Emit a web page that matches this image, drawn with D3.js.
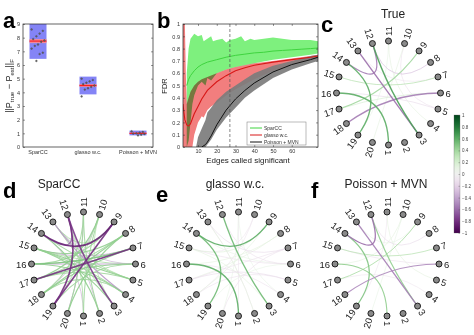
<!DOCTYPE html>
<html>
<head>
<meta charset="utf-8">
<script src="https://cdn.jsdelivr.net/npm/d3@7"></script>
<style>
body { margin: 0; background: #fff; }
svg { font-family: "Liberation Sans", Arial, sans-serif; }
</style>
</head>
<body>
<svg id="fig" width="474" height="335"></svg>
<script>
// ---- panel a: error norms per method ----
var methods = ["SparCC", "glasso w.c.", "Poisson + MVN"];
var normPoints = [
  [8.6, 8.5, 8.3, 8.1, 7.9, 7.8, 7.7, 7.5, 7.4, 7.2, 6.9, 6.8, 6.3],
  [5.0, 4.9, 4.8, 4.7, 4.6, 4.5, 4.4, 4.3, 4.2, 3.7],
  [1.15, 1.1, 1.05, 1.0, 0.98, 0.95, 0.9, 0.85]
];
var normMean = [7.75, 4.5, 1.0];
var normSem = [0.15, 0.1, 0.05];
var normBoxLo = [6.45, 3.85, 0.85];
var normBoxHi = [9.0, 5.15, 1.2];

// ---- panel b: FDR curves ----
var sparGreenX = [4, 5, 6, 8, 10, 12, 15, 20, 25, 30, 35, 40, 45, 50, 55, 60, 65, 70, 74];
var sparMean = [0.5, 0.55, 0.58, 0.62, 0.65, 0.67, 0.69, 0.71, 0.73, 0.745, 0.755, 0.765, 0.77, 0.78, 0.785, 0.79, 0.795, 0.8, 0.805];
var sparUpX = [4, 5, 6, 7, 8, 10, 12, 13, 15, 17, 18, 20, 23, 25, 27, 30, 33, 35, 38, 40, 45, 50, 55, 60, 65, 70, 74];
var sparUp = [0.6, 0.8, 0.88, 0.9, 0.92, 0.9, 0.91, 0.86, 0.88, 0.9, 0.86, 0.87, 0.88, 0.85, 0.87, 0.88, 0.9, 0.86, 0.88, 0.87, 0.88, 0.89, 0.88, 0.87, 0.87, 0.87, 0.86];
var sparLoX = [4, 5, 6, 7, 8, 10, 12, 14, 15, 17, 20, 25, 30, 40, 50, 60, 70, 74];
var sparLo = [0, 0.05, 0.2, 0.35, 0.42, 0.5, 0.53, 0.5, 0.56, 0.54, 0.6, 0.63, 0.65, 0.68, 0.71, 0.73, 0.75, 0.76];

var glasMeanX = [2, 2.5, 3, 4, 5, 6, 8, 10, 12, 15, 20, 25, 30, 35, 40, 50, 60, 70, 74];
var glasMean = [0.35, 0.28, 0.22, 0.18, 0.17, 0.19, 0.27, 0.33, 0.39, 0.46, 0.53, 0.58, 0.62, 0.645, 0.665, 0.69, 0.71, 0.73, 0.74];
var glasUpX = [2, 3, 3.5, 4, 5, 6, 8, 10, 12, 15, 20, 25, 30, 40, 50, 60, 70, 74];
var glasUp = [1, 1, 0.6, 0.35, 0.4, 0.45, 0.5, 0.53, 0.55, 0.57, 0.6, 0.63, 0.65, 0.68, 0.7, 0.72, 0.74, 0.75];
var glasLoX = [2, 7, 8, 10, 12, 13, 15, 17, 20, 25, 30, 40, 50, 60, 70, 74];
var glasLo = [0, 0, 0.1, 0.2, 0.25, 0.24, 0.3, 0.33, 0.36, 0.42, 0.47, 0.55, 0.62, 0.67, 0.71, 0.72];

var poisMeanX = [12, 14, 15, 17, 20, 25, 30, 35, 40, 50, 60, 70, 74];
var poisMean = [0, 0.02, 0.04, 0.09, 0.18, 0.3, 0.39, 0.46, 0.52, 0.61, 0.67, 0.71, 0.73];
var poisUpX = [9, 10, 12, 14, 15, 17, 20, 25, 30, 35, 40, 50, 60, 70, 74];
var poisUp = [0, 0.08, 0.15, 0.22, 0.28, 0.32, 0.38, 0.45, 0.5, 0.55, 0.6, 0.66, 0.7, 0.74, 0.75];
var poisLoX = [9, 14, 15, 17, 20, 25, 30, 35, 40, 50, 60, 70, 74];
var poisLo = [0, 0, 0.02, 0.06, 0.14, 0.24, 0.32, 0.4, 0.46, 0.56, 0.63, 0.68, 0.7];
var cutoffEdges = 27;

// ---- panels c-f: network edges [node, node, weight] ----
var trueEdges = [
  [12, 3, 0.65], [13, 3, -0.6], [14, 12, -0.55], [14, 19, 0.6], [16, 1, 0.6], [18, 6, -0.55],
  [9, 17, 0.4], [7, 15, 0.3], [12, 8, -0.25], [11, 4, 0.12], [10, 5, -0.12], [5, 16, -0.15],
  [20, 10, 0.12], [17, 6, 0.18], [13, 7, -0.1], [19, 11, 0.1]
];
var sparccEdges = [
  [14, 9, -0.85], [12, 19, -0.8], [12, 3, -0.75], [17, 7, -0.8], [19, 9, -0.8], [14, 12, -0.6],
  [13, 4, -0.45], [16, 6, -0.4], [11, 20, -0.35], [15, 7, -0.35], [18, 10, -0.3], [2, 12, -0.3],
  [13, 6, -0.3], [1, 14, -0.3],
  [15, 8, 0.45], [15, 5, 0.45], [16, 7, 0.5], [16, 4, 0.45], [17, 8, 0.4], [17, 5, 0.4],
  [18, 7, 0.45], [18, 4, 0.4], [19, 6, 0.4], [20, 8, 0.45], [20, 11, 0.4], [1, 10, 0.4],
  [1, 12, 0.35], [2, 11, 0.4], [2, 14, 0.45], [3, 13, 0.35], [3, 15, 0.45], [4, 15, 0.4],
  [5, 14, 0.4], [6, 15, 0.35], [6, 17, 0.45], [7, 16, 0.35], [8, 18, 0.45], [9, 16, 0.4],
  [10, 17, 0.45], [10, 19, 0.35], [11, 18, 0.4], [13, 9, 0.35], [3, 10, 0.3], [5, 13, 0.35]
];
var glassoEdges = [
  [14, 9, 0.6], [12, 3, 0.55], [16, 1, 0.6], [14, 19, 0.55],
  [13, 7, -0.15], [15, 6, -0.12], [17, 8, 0.12], [18, 5, -0.12], [11, 4, 0.1], [10, 18, -0.1],
  [9, 15, 0.15], [20, 7, -0.12], [2, 13, 0.12], [17, 5, -0.15], [16, 8, 0.12], [15, 10, -0.1],
  [19, 6, 0.1], [12, 6, -0.12], [13, 2, -0.1], [18, 9, 0.12], [11, 1, -0.1], [20, 11, 0.1],
  [4, 16, -0.12], [3, 15, 0.12], [7, 17, -0.12], [6, 14, 0.1]
];
var poissonEdges = [
  [14, 12, -0.6], [13, 3, -0.55], [12, 3, 0.45], [14, 19, 0.5], [16, 1, 0.45], [18, 6, -0.5],
  [9, 17, 0.35], [7, 15, 0.3], [12, 8, -0.15], [11, 5, 0.12], [15, 6, -0.12], [13, 9, 0.1],
  [20, 10, 0.1], [17, 4, -0.1], [10, 16, 0.12], [11, 19, -0.1]
];
var nodeIds = d3.range(1, 21);
var cbarTicks = [-1, -0.8, -0.6, -0.4, -0.2, 0, 0.2, 0.4, 0.6, 0.8, 1];

var svg = d3.select("#fig");

function panelLetter(t, x, y) {
  svg.append("text").attr("x", x).attr("y", y).attr("font-size", 22)
    .attr("font-weight", "bold").text(t);
}

// box axes with inward ticks on all sides
function boxAxes(x, y, xt, yt, xfmt, yfmt) {
  var g = svg.append("g");
  var x0 = x.range()[0], x1 = x.range()[1], y0 = y.range()[0], y1 = y.range()[1];
  g.append("g").attr("transform", "translate(0," + y0 + ")")
    .call(d3.axisBottom(x).tickValues(xt).tickFormat(xfmt).tickSizeInner(-2).tickSizeOuter(0).tickPadding(2));
  g.append("g").attr("transform", "translate(" + x0 + ",0)")
    .call(d3.axisLeft(y).tickValues(yt).tickFormat(yfmt).tickSizeInner(-2).tickSizeOuter(0).tickPadding(3));
  g.append("g").attr("transform", "translate(" + x1 + ",0)")
    .call(d3.axisRight(y).tickValues(yt).tickFormat("").tickSizeInner(-2).tickSizeOuter(0));
  g.append("g").attr("transform", "translate(0," + y1 + ")")
    .call(d3.axisTop(x).tickValues(xt).tickFormat("").tickSizeInner(-2).tickSizeOuter(0));
  g.selectAll("g").attr("font-size", 5.5).attr("font-family", null);
  g.selectAll(".domain").remove();
  g.selectAll("line").attr("stroke", "#333").attr("stroke-width", 0.5);
  g.selectAll("text").attr("fill", "#333");
  g.append("rect").attr("x", x0).attr("y", y1).attr("width", x1 - x0).attr("height", y0 - y1)
    .attr("fill", "none").attr("stroke", "#222").attr("stroke-width", 0.7);
  return g;
}

// ================= panel a =================
var ax = d3.scalePoint().domain(methods).range([38, 138]);
var ay = d3.scaleLinear().domain([0, 9]).range([147, 24]);
var ga = svg.append("g");
methods.forEach(function (m, i) {
  var cx = ax(m), w = 17;
  ga.append("rect").attr("x", cx - w / 2).attr("width", w)
    .attr("y", ay(normBoxHi[i])).attr("height", ay(normBoxLo[i]) - ay(normBoxHi[i]))
    .attr("fill", "#8484f6");
  ga.append("rect").attr("x", cx - w / 2).attr("width", w)
    .attr("y", ay(normMean[i] + normSem[i])).attr("height", ay(normMean[i] - normSem[i]) - ay(normMean[i] + normSem[i]))
    .attr("fill", "#f08a9a");
  ga.append("line").attr("x1", cx - w / 2).attr("x2", cx + w / 2)
    .attr("y1", ay(normMean[i])).attr("y2", ay(normMean[i]))
    .attr("stroke", "#ff2020").attr("stroke-width", 1.2);
  normPoints[i].forEach(function (v, j) {
    var jit = ((j * 7) % 9 - 4) * 1.6;
    ga.append("circle").attr("cx", cx + jit).attr("cy", ay(v)).attr("r", 0.9)
      .attr("fill", "#666").attr("stroke", "#333").attr("stroke-width", 0.3);
  });
});
boxAxes(d3.scaleLinear().domain([0, 1]).range([23, 153]), ay, [], d3.range(0, 10), null, d3.format("d"));
svg.append("g").attr("font-size", 5.5).attr("fill", "#333")
  .selectAll("text").data(methods).join("text")
  .attr("x", function (d) { return ax(d); }).attr("y", 154)
  .attr("text-anchor", "middle").text(function (d) { return d; });
var yl = svg.append("text").attr("transform", "translate(12,86) rotate(-90)")
  .attr("text-anchor", "middle").attr("font-size", 9).attr("fill", "#222");
yl.append("tspan").text("||P");
yl.append("tspan").attr("font-size", 6).attr("dy", 2).text("true");
yl.append("tspan").attr("dy", -2).text(" \u2212 P");
yl.append("tspan").attr("font-size", 6).attr("dy", 2).text("est");
yl.append("tspan").attr("dy", -2).text("||");
yl.append("tspan").attr("font-size", 6).attr("dy", 2).text("F");
panelLetter("a", 3, 28);

// ================= panel b =================
var bx = d3.scaleLinear().domain([2, 74]).range([183, 318]);
var by = d3.scaleLinear().domain([0, 1]).range([147, 24]);
var gb = svg.append("g");
gb.append("clipPath").attr("id", "clipb").append("rect")
  .attr("x", 183).attr("y", 24).attr("width", 135).attr("height", 123);
var plot = gb.append("g").attr("clip-path", "url(#clipb)");

function band(xu, yu, xl, yl2) {
  var pts = xu.map(function (x, i) { return [bx(x), by(yu[i])]; });
  for (var i = xl.length - 1; i >= 0; i--) pts.push([bx(xl[i]), by(yl2[i])]);
  return "M" + pts.join("L") + "Z";
}
var line = d3.line().x(function (d) { return bx(d[0]); }).y(function (d) { return by(d[1]); });
function zip(xs, ys) { return xs.map(function (x, i) { return [x, ys[i]]; }); }

plot.append("path").attr("d", band(glasUpX, glasUp, glasLoX, glasLo))
  .attr("fill", "#f27e7e").style("mix-blend-mode", "multiply");
plot.append("path").attr("d", band(sparUpX, sparUp, sparLoX, sparLo))
  .attr("fill", "#7ef07e").style("mix-blend-mode", "multiply");
plot.append("path").attr("d", band(poisUpX, poisUp, poisLoX, poisLo))
  .attr("fill", "#7c7c7c").attr("opacity", 0.92);
plot.append("path").attr("d", line(zip(sparGreenX, sparMean)))
  .attr("fill", "none").attr("stroke", "#3fd43f").attr("stroke-width", 1);
plot.append("path").attr("d", line(zip(glasMeanX, glasMean)))
  .attr("fill", "none").attr("stroke", "#d81818").attr("stroke-width", 1.1);
plot.append("path").attr("d", line(zip(poisMeanX, poisMean)))
  .attr("fill", "none").attr("stroke", "#111").attr("stroke-width", 1);
plot.append("line").attr("x1", bx(cutoffEdges)).attr("x2", bx(cutoffEdges))
  .attr("y1", by(0)).attr("y2", by(1))
  .attr("stroke", "#555").attr("stroke-width", 0.7).attr("stroke-dasharray", "3,2");

boxAxes(bx, by, [10, 20, 30, 40, 50, 60], d3.range(0, 11).map(function (d) { return d / 10; }),
  d3.format("d"), function (d) { return d === 0 || d === 1 ? d3.format("d")(d) : d3.format(".1f")(d); });
svg.append("text").attr("x", 248).attr("y", 163).attr("text-anchor", "middle")
  .attr("font-size", 8).attr("fill", "#222").text("Edges called significant");
svg.append("text").attr("transform", "translate(167,86) rotate(-90)").attr("text-anchor", "middle")
  .attr("font-size", 7.5).attr("fill", "#222").text("FDR");

// legend
var lg = svg.append("g");
lg.append("rect").attr("x", 247).attr("y", 122).attr("width", 59).attr("height", 23)
  .attr("fill", "#fff").attr("stroke", "#777").attr("stroke-width", 0.5);
var legItems = [["SparCC", "#3fd43f"], ["glasso w.c.", "#d81818"], ["Poisson + MVN", "#111"]];
legItems.forEach(function (d, i) {
  var yy = 128 + i * 7;
  lg.append("line").attr("x1", 250).attr("x2", 262).attr("y1", yy).attr("y2", yy)
    .attr("stroke", d[1]).attr("stroke-width", 1);
  lg.append("text").attr("x", 264).attr("y", yy + 1.8).attr("font-size", 5).attr("fill", "#333").text(d[0]);
});
panelLetter("b", 157, 28);

// ================= networks =================
var edgeColor = function (w) { return d3.interpolatePRGn((w + 1) / 2); };
function network(cx, cy, R, edges, title, tx, ty, letter, lx, ly) {
  var g = svg.append("g");
  var ang = d3.scaleLinear().domain([1, 21]).range([90, 90 - 360]);
  function pos(k) {
    var a = ang(k) * Math.PI / 180;
    return [cx + R * Math.cos(a), cy + R * Math.sin(a)];
  }
  var sorted = edges.slice().sort(function (a, b) { return Math.abs(a[2]) - Math.abs(b[2]); });
  g.selectAll("path.edge").data(sorted).join("path").attr("class", "edge")
    .attr("d", function (d) {
      var p = pos(d[0]), q = pos(d[1]);
      return "M" + p + "Q" + cx + "," + cy + " " + q;
    })
    .attr("fill", "none")
    .attr("stroke", function (d) { return edgeColor(d[2]); })
    .attr("stroke-width", function (d) { return 0.5 + 1.4 * Math.abs(d[2]); })
    .attr("stroke-opacity", 0.9);
  g.selectAll("circle").data(nodeIds).join("circle")
    .attr("cx", function (k) { return pos(k)[0]; })
    .attr("cy", function (k) { return pos(k)[1]; })
    .attr("r", 3).attr("fill", "#8a8a8a").attr("stroke", "#111").attr("stroke-width", 0.9);
  g.selectAll("text.lab").data(nodeIds).join("text").attr("class", "lab")
    .attr("font-size", 9.5).attr("fill", "#222").attr("dominant-baseline", "central")
    .attr("transform", function (k) {
      var p = pos(k), a = ang(k);
      var right = Math.cos(a * Math.PI / 180) > -1e-6;
      return "translate(" + p + ") rotate(" + (right ? a : a + 180) + ")";
    })
    .attr("x", function (k) { return Math.cos(ang(k) * Math.PI / 180) > -1e-6 ? 5 : -5; })
    .attr("text-anchor", function (k) { return Math.cos(ang(k) * Math.PI / 180) > -1e-6 ? "start" : "end"; })
    .text(function (k) { return k; });
  svg.append("text").attr("x", tx).attr("y", ty).attr("text-anchor", "middle")
    .attr("font-size", 12).attr("fill", "#222").text(title);
  panelLetter(letter, lx, ly);
}
network(388.5, 93, 52, trueEdges, "True", 393, 18, "c", 321, 32);
network(83.5, 264, 52, sparccEdges, "SparCC", 59, 188, "d", 3, 198);
network(238.5, 264, 52, glassoEdges, "glasso w.c.", 235, 188, "e", 156, 202);
network(387, 264, 52, poissonEdges, "Poisson + MVN", 386, 188, "f", 311, 198);

// ================= colour bar =================
var cy0 = 233, cy1 = 115;
var cs = d3.scaleLinear().domain([-1, 1]).range([cy0, cy1]);
var grad = svg.append("defs").append("linearGradient").attr("id", "cbar")
  .attr("x1", 0).attr("y1", 1).attr("x2", 0).attr("y2", 0);
d3.range(0, 1.001, 0.05).forEach(function (t) {
  grad.append("stop").attr("offset", t).attr("stop-color", d3.interpolatePRGn(t));
});
svg.append("rect").attr("x", 454).attr("y", cy1).attr("width", 6).attr("height", cy0 - cy1)
  .attr("fill", "url(#cbar)").attr("stroke", "#666").attr("stroke-width", 0.3);
var cg = svg.append("g").attr("transform", "translate(460,0)")
  .call(d3.axisRight(cs).tickValues(cbarTicks).tickFormat(d3.format("")).tickSizeInner(-1.5).tickSizeOuter(0).tickPadding(2));
cg.attr("font-size", 4.5).attr("font-family", null);
cg.select(".domain").remove();
cg.selectAll("line").attr("stroke", "#555").attr("stroke-width", 0.4);
cg.selectAll("text").attr("fill", "#444");
</script>
</body>
</html>
